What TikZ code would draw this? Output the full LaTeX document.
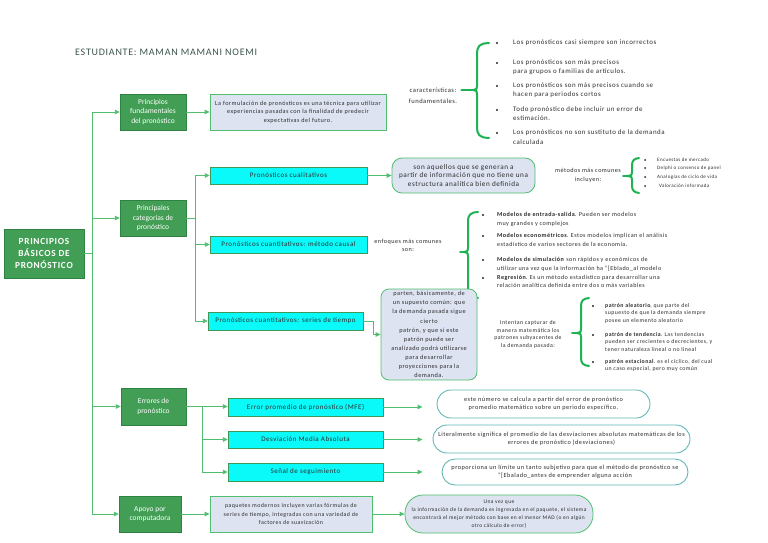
\documentclass[tikz,border=0pt]{standalone}
\usepackage{fontspec}
\setmainfont{Carlito}[LetterSpace=7.5]
\newfontfamily\plainf{Carlito}
\usetikzlibrary{arrows.meta}
\definecolor{gbox}{RGB}{66,158,84}
\definecolor{gboxd}{RGB}{48,130,66}
\definecolor{gline}{RGB}{80,190,110}
\definecolor{brc}{RGB}{30,178,82}
\definecolor{cyanb}{RGB}{10,250,250}
\definecolor{lav}{RGB}{222,227,242}
\definecolor{tealb}{RGB}{100,182,182}
\definecolor{tx}{RGB}{45,45,45}
\definecolor{ttl}{RGB}{60,85,75}
\newcommand{\GBrace}[5]{% x, top, tip, bottom, curl
  \draw[bracestyle] ({#1+#5},#2) .. controls ({#1+2},{#2+0.5}) and (#1,{#2+3}) .. (#1,{#2+#5}) -- (#1,{#3-4}) .. controls (#1,{#3-1}) .. ({#1-4},#3) .. controls (#1,{#3+1}) .. (#1,{#3+4}) -- (#1,{#4-#5}) .. controls (#1,{#4-3}) and ({#1+2},{#4-0.5}) .. ({#1+#5},#4);}
\begin{document}
\begin{tikzpicture}[x=1pt,y=-1pt,
  gnode/.style={draw=gboxd, fill=gbox, text=white, align=center, inner sep=0pt,
    font=\plainf\fontsize{7.5}{9.5}\selectfont},
  cnode/.style={draw=gline!80!black, fill=cyanb, text=tx, inner sep=0pt,
    font=\fontsize{7}{8}\selectfont},
  lnode/.style={draw=gline, line width=0.8pt, fill=lav, text=tx, align=center, inner sep=0pt},
  tnode/.style={draw=tealb, line width=0.9pt, fill=white, text=tx, align=center, inner sep=0pt,
    font=\fontsize{6.3}{8.5}\selectfont},
  conn/.style={draw=gline, line width=0.9pt, -{Triangle[length=5pt,width=4.5pt]}},
  plainline/.style={draw=gline, line width=0.9pt},
  bracestyle/.style={draw=brc, line width=2pt, line cap=round, line join=round},
  bul/.style={circle, fill=black!85, inner sep=0pt, minimum size=2.4pt},
  itm/.style={anchor=north west, align=left, inner sep=0pt, text=tx,
    font=\fontsize{6.1}{9}\selectfont},
  lbl/.style={align=center, inner sep=0pt, text=tx, font=\fontsize{6.4}{8.5}\selectfont}
]
\useasboundingbox (0,0) rectangle (768,543);
\fill[white] (0,0) rectangle (768,543);

% title
\node[anchor=west, inner sep=0pt, text=ttl, font=\fontsize{10}{12}\selectfont] (title) at (75,52) {ESTUDIANTE: MAMAN MAMANI NOEMI};

% root
\node[gnode, minimum width=80pt, minimum height=49pt, font=\rmfamily\bfseries\fontsize{9.3}{12}\selectfont] (root) at (44,253.5) {PRINCIPIOS\\BÁSICOS DE\\PRONÓSTICO};

% level 1
\node[gnode, minimum width=66pt, minimum height=36pt] (g1) at (153,112) {Principios\\fundamentales\\del pronóstico};
\node[gnode, minimum width=66pt, minimum height=36pt] (g2) at (153,218) {Principales\\categorías de\\pronóstico};
\node[gnode, minimum width=65pt, minimum height=37pt] (g3) at (153.5,406.5) {Errores de\\pronóstico};
\node[gnode, minimum width=62pt, minimum height=36pt] (g4) at (150,514) {Apoyo por\\computadora};

% trunk
\coordinate (t0) at (92,253.5);
\coordinate (t1) at (92,112);
\coordinate (t2) at (92,218);
\coordinate (t3) at (92,406.5);
\coordinate (t4) at (92,514);
\draw[plainline] (root.east) -- (t0);
\draw[plainline] (t1) -- (t4);
\draw[conn] (t1) -- (g1.west);
\draw[conn] (t2) -- (g2.west);
\draw[conn] (t3) -- (g3.west);
\draw[conn] (t4) -- (g4.west);

% branch 1
\node[lnode, minimum width=176pt, minimum height=36pt, font=\fontsize{6.2}{8.5}\selectfont] (formul) at (298,112) {La formulación de pronósticos es una técnica para utilizar\\experiencias pasadas con la finalidad de predecir\\expectativas del futuro.};
\draw[conn] (g1) -- (formul);

\node[lbl, font=\fontsize{6.6}{10.7}\selectfont] (carac) at (433,95.5) {características:\\fundamentales.};
\coordinate (b1tip) at (473,90);
\draw[bracestyle, line width=1.8pt] ([xshift=4pt]carac.east |- b1tip) -- (b1tip);
\GBrace{477}{43}{90}{138}{12}
\foreach \yy/\nm in {43/a,63/b,86/c,110/d,133/e}{\node[bul] (c\nm) at (497,\yy) {};}
\node[itm, font=\fontsize{6.9}{9}\selectfont] (ct1) at (513,40) {Los pronósticos casi siempre son incorrectos};
\node[itm, font=\fontsize{6.9}{9}\selectfont] (ct2) at (513,60) {Los pronósticos son más precisos\\para grupos o familias de artículos.};
\node[itm, font=\fontsize{6.9}{9}\selectfont] (ct3) at (513,83) {Los pronósticos son más precisos cuando se\\hacen para periodos cortos};
\node[itm, font=\fontsize{6.9}{9}\selectfont] (ct4) at (513,107) {Todo pronóstico debe incluir un error de\\estimación.};
\node[itm, font=\fontsize{6.9}{9.5}\selectfont] (ct5) at (513,130) {Los pronósticos no son sustituto de la demanda\\calculada};

% branch 2
\coordinate (s0) at (195,218);
\coordinate (s1) at (195,175.5);
\coordinate (s2) at (195,244.5);
\coordinate (s3) at (195,321);
\draw[plainline] (g2.east) -- (s0);
\draw[plainline] (s1) -- (s3);
\node[cnode, minimum width=157pt, minimum height=17pt] (cual) at (288.5,175.5) {Pronósticos cualitativos};
\node[cnode, minimum width=157pt, minimum height=17pt] (causal) at (288.5,244.5) {Pronósticos cuantitativos: método causal};
\node[cnode, minimum width=155pt, minimum height=18pt] (series) at (285.5,321) {Pronósticos cuantitativos: series de tiempo};
\draw[conn] (s1) -- (cual.west);
\draw[conn] (s2) -- (causal.west);
\draw[conn] (s3) -- (series.west);

\node[lnode, rounded corners=10pt, minimum width=143pt, minimum height=35pt, font=\fontsize{7.2}{8.5}\selectfont] (cualdesc) at (463.5,175.5) {son aquellos que se generan a\\partir de información que no tiene una\\estructura analítica bien definida};
\draw[conn] (cual) -- (cualdesc);

\node[lbl, font=\fontsize{6.2}{9}\selectfont] (metodos) at (588,175.5) {métodos más comunes\\incluyen:};
\coordinate (b2tip) at (629,176);
\draw[bracestyle, line width=1.8pt] (623,176) -- (b2tip);
\GBrace{632}{158}{176}{193}{7}
\foreach \yy/\nm in {160/a,168/b,177/c,186/d}{\node[bul, minimum size=2pt] (m\nm) at (645,\yy) {};}
\node[itm, anchor=west, font=\fontsize{5.0}{7}\selectfont] (mt1) at (657,160) {Encuestas de mercado};
\node[itm, anchor=west, font=\fontsize{5.0}{7}\selectfont] (mt2) at (657,168.5) {Delphi o consenso de panel};
\node[itm, anchor=west, font=\fontsize{5.0}{7}\selectfont] (mt3) at (657,177) {Analogías de ciclo de vida};
\node[itm, anchor=west, font=\fontsize{5.0}{7}\selectfont] (mt4) at (659,186) {Valoración informada};

\node[lbl, font=\fontsize{6.2}{8}\selectfont] (enfoques) at (408,245.5) {enfoques más comunes\\son:};
\coordinate (b3tip) at (465,252);
\draw[bracestyle, line width=1.8pt] (460,252) -- (b3tip);
\GBrace{468}{212}{252}{298}{10}
\foreach \yy/\nm in {215/a,236/b,260/c,278/d}{\node[bul] (e\nm) at (483,\yy) {};}
\node[itm] (et1) at (497,212) {\textbf{Modelos de entrada-salida}. Pueden ser modelos\\muy grandes y complejos};
\node[itm] (et2) at (497,233) {\textbf{Modelos econométricos}. Estos modelos implican el análisis\\estadístico de varios sectores de la economía.};
\node[itm] (et3) at (497,257) {\textbf{Modelos de simulación} son rápidos y económicos de\\utilizar una vez que la información ha "[Eblado\_al modelo};
\node[itm, font=\fontsize{6.1}{8.5}\selectfont] (et4) at (497,275) {\textbf{Regresión}. Es un método estadístico para desarrollar una\\relación analítica definida entre dos o más variables};

\node[lnode, rounded corners=8pt, minimum width=96pt, minimum height=91pt, font=\fontsize{6.3}{9.1}\selectfont] (seriesdesc) at (429,334.5) {parten, básicamente, de\\un supuesto común: que\\la demanda pasada sigue\\cierto\\patrón, y que si este\\patrón puede ser\\analizado podrá utilizarse\\para desarrollar\\proyecciones para la\\demanda.};
\draw[conn] (series.east) -- ++(10,0) |- (seriesdesc.west);

\node[lbl, font=\fontsize{5.8}{7.8}\selectfont] (intentan) at (528,334.5) {Intentan capturar de\\manera matemática los\\patrones subyacentes de\\la demanda pasada:};
\coordinate (b4tip) at (577,333);
\draw[bracestyle, line width=1.8pt] (572,333) -- (b4tip);
\GBrace{581}{298}{333}{366}{8}
\foreach \yy/\nm in {306/a,335/b,362/c}{\node[bul] (p\nm) at (593,\yy) {};}
\node[itm, font=\fontsize{5.8}{7.7}\selectfont] (pt1) at (605,303) {\textbf{patrón aleatorio}, que parte del\\supuesto de que la demanda siempre\\posee un elemento aleatorio};
\node[itm, font=\fontsize{5.8}{7.7}\selectfont] (pt2) at (605,332) {\textbf{patrón de tendencia}. Las tendencias\\pueden ser crecientes o decrecientes, y\\tener naturaleza lineal o no lineal};
\node[itm, font=\fontsize{5.8}{7.7}\selectfont] (pt3) at (605,359) {\textbf{patrón estacional}. es el cíclico, del cual\\un caso especial, pero muy común};

% branch 3
\node[cnode, minimum width=155pt, minimum height=18pt] (mfe) at (305.5,407) {Error promedio de pronóstico (MFE)};
\node[cnode, minimum width=155pt, minimum height=17pt] (mad) at (305.5,439.5) {Desviación Media Absoluta};
\node[cnode, minimum width=155pt, minimum height=18pt] (senal) at (305.5,472) {Señal de seguimiento};
\coordinate (e0) at (202,406.5);
\coordinate (e2) at (202,439.5);
\coordinate (e3) at (202,472);
\draw[conn] (g3.east) -- (mfe.west |- g3.east);
\draw[plainline] (e0) -- (e3);
\draw[conn] (e2) -- (mad.west);
\draw[conn] (e3) -- (senal.west);

\node[tnode, rounded corners=14pt, minimum width=213pt, minimum height=28pt] (mfed) at (543.5,404) {este número se calcula a partir del error de pronóstico\\promedio matemático sobre un periodo específico.};
\node[tnode, rounded corners=14pt, minimum width=257pt, minimum height=28pt] (madd) at (561.5,439) {Literalmente significa el promedio de las desviaciones absolutas matemáticas de los\\errores de pronóstico (desviaciones)};
\node[tnode, rounded corners=13pt, minimum width=246pt, minimum height=26pt] (senald) at (565,472) {proporciona un límite un tanto subjetivo para que el método de pronóstico se\\"[Ebalado\_antes de emprender alguna acción};
\draw[conn, shorten >=14pt] (mfe.east) -- (mfe.east -| mfed.west);
\draw[conn, shorten >=10pt] (mad.east) -- (mad.east -| madd.west);
\draw[conn, shorten >=19pt] (senal.east) -- (senal.east -| senald.west);

% branch 4
\node[lnode, minimum width=162pt, minimum height=36pt, font=\fontsize{5.9}{8.5}\selectfont] (apoyod) at (291,514) {paquetes modernos incluyen varias fórmulas de\\series de tiempo, integradas con una variedad de\\factores de suavización};
\node[lnode, rounded corners=18pt, minimum width=188pt, minimum height=38pt, font=\fontsize{5.5}{8}\selectfont] (apoyoe) at (499,514) {Una vez que\\la información de la demanda es ingresada en el paquete, el sistema\\encontrará el mejor método con base en el menor MAD (o en algún\\otro cálculo de error)};
\draw[conn] (g4) -- (apoyod);
\draw[conn] (apoyod) -- (apoyoe);
\end{tikzpicture}
\end{document}
